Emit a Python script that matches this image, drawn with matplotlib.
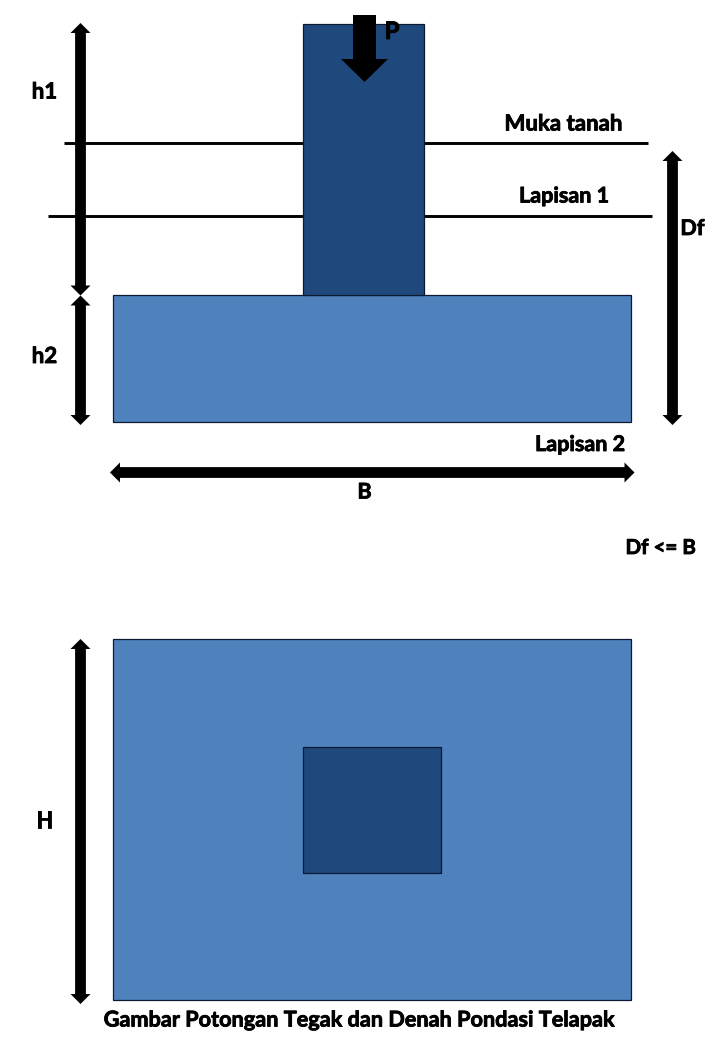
import matplotlib
matplotlib.use("Agg")
import matplotlib.pyplot as plt
from matplotlib.patches import Rectangle, Polygon
import matplotlib.patheffects as pe

# Geometry (pixel units)
rect_names = ["footing", "column", "plan", "plan_column"]
rect_x0 = [112.8, 303, 112.8, 303]
rect_x1 = [631, 424, 631, 441]
rect_y0 = [295, 24, 639, 747]
rect_y1 = [422, 295, 1000, 873]
rect_colors = ["#4F81BD", "#1F497D", "#4F81BD", "#1F497D"]

line_names = ["Muka tanah", "Lapisan 1"]
line_y = [143, 216]
line_x0 = [64, 48]
line_x1 = [648, 652]

# double-headed dimension arrows: fixed coordinate, start, end
varrow_names = ["h1", "h2", "Df", "H"]
varrow_x = [80.5, 80.5, 672.5, 80.5]
varrow_start = [23, 295.5, 151, 639]
varrow_end = [295.5, 425, 425, 1004]
harrow_y = [472.5]
harrow_start = [110]
harrow_end = [634.5]

labels = ["h1", "h2", "Df", "H", "B", "P", "Muka tanah", "Lapisan 1", "Lapisan 2", "Df <= B",
          "Gambar Potongan Tegak dan Denah Pondasi Telapak"]
label_x = [44.5, 44.5, 692.5, 44.5, 364.5, 392, 563.5, 564, 580, 660.5, 360]
label_y = [92, 356.5, 228.5, 821, 492, 31.5, 124, 196, 444.5, 548, 1020]
label_size = [16, 16, 15.5, 16, 15.5, 17.5, 16, 15.5, 15.5, 14.8, 15.6]

plt.rcParams["font.family"] = ["Lato", "DejaVu Sans"]
fig = plt.figure(figsize=(7.2, 10.4), dpi=100)
ax = fig.add_axes([0, 0, 1, 1])
ax.set_xlim(0, 720)
ax.set_ylim(1040, 0)
ax.axis("off")

for y, x0, x1 in zip(line_y, line_x0, line_x1):
    ax.plot([x0, x1], [y, y], color="black", lw=2.1, solid_capstyle="butt", zorder=1)

for x0, x1, y0, y1, c in zip(rect_x0, rect_x1, rect_y0, rect_y1, rect_colors):
    ax.add_patch(Rectangle((x0, y0), x1 - x0, y1 - y0, facecolor=c,
                           edgecolor="#0b1a30", lw=0.9, zorder=2))

def double_arrow(a, b, c, vertical=True, half=5.4, head=10, hl=10):
    pts = [(c, a), (c + head, a + hl), (c + half, a + hl), (c + half, b - hl),
           (c + head, b - hl), (c, b), (c - head, b - hl), (c - half, b - hl),
           (c - half, a + hl), (c - head, a + hl)]
    if not vertical:
        pts = [(p, q) for q, p in pts]
    ax.add_patch(Polygon(pts, closed=True, facecolor="black", edgecolor="none", zorder=3))

for x, a, b in zip(varrow_x, varrow_start, varrow_end):
    double_arrow(a, b, x)
for y, a, b in zip(harrow_y, harrow_start, harrow_end):
    double_arrow(a, b, y, vertical=False)

# Load arrow P
p_x = 364.5
p_top, p_base, p_tip = 15, 59, 82
ax.add_patch(Polygon([(p_x - 11.5, p_top), (p_x + 11.5, p_top), (p_x + 11.5, p_base),
                      (p_x + 23.5, p_base), (p_x, p_tip), (p_x - 23.5, p_base),
                      (p_x - 11.5, p_base)], closed=True, facecolor="black",
                     edgecolor="none", zorder=4))

for t, x, y, s in zip(labels, label_x, label_y, label_size):
    txt = ax.text(x, y, t, ha="center", va="center", fontsize=s, fontweight="bold",
                  color="black", zorder=5)
    txt.set_path_effects([pe.withStroke(linewidth=0.6, foreground="black")])

fig.savefig("out.png", dpi=100)
